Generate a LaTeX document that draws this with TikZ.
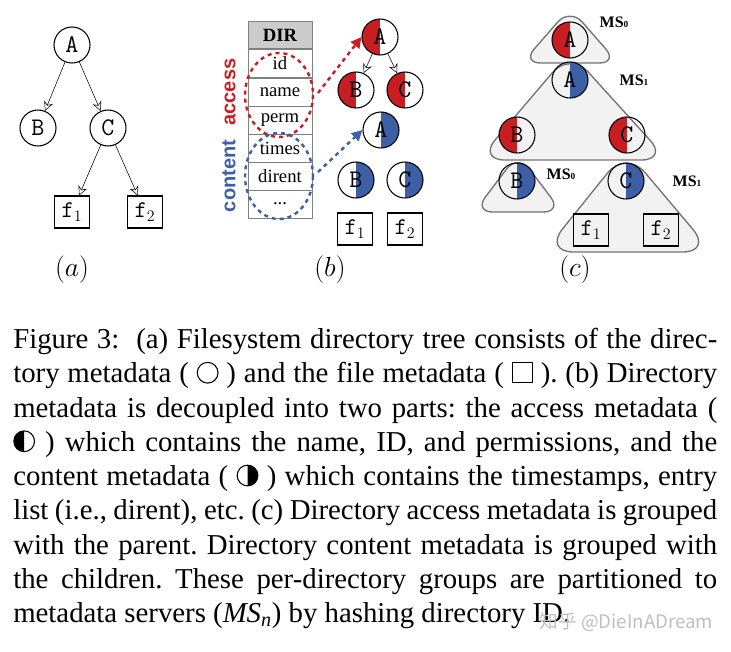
\documentclass[tikz,border=0pt]{standalone}
\usepackage{fontspec}
\setmainfont{Liberation Serif}
\newfontfamily\cjk{Noto Sans CJK SC}
\newfontfamily\wsans{Liberation Sans}
\usetikzlibrary{arrows.meta}
\definecolor{accred}{RGB}{200,30,35}
\definecolor{conblue}{RGB}{60,95,165}
\definecolor{grp}{RGB}{242,242,242}
\begin{document}
\begin{tikzpicture}[x=0.75pt,y=-0.75pt,
  dn/.style={circle,draw,thick,minimum size=27pt,inner sep=0pt,font=\ttfamily\fontsize{19}{19}\selectfont},
  fn/.style={draw,thick,minimum width=26pt,minimum height=24pt,inner sep=0pt,font=\ttfamily\fontsize{18}{18}\selectfont},
  acc/.style={dn,path picture={\fill[accred] (path picture bounding box.north) rectangle (path picture bounding box.south west);}},
  con/.style={dn,path picture={\fill[conblue] (path picture bounding box.north) rectangle (path picture bounding box.south east);}},
  edge/.style={-{Stealth[open,length=7pt,width=7pt]},thin},
  cell/.style={draw=gray,minimum width=48pt,minimum height=21pt,inner sep=0pt,font=\fontsize{14}{14}\selectfont},
  grpst/.style={draw=gray!90!black,fill=grp,line width=1pt,rounded corners=14pt},
  ms/.style={font=\bfseries\fontsize{12}{12}\selectfont},
  lab/.style={font=\fontsize{20}{20}\selectfont}]
\useasboundingbox (0,0) rectangle (731,652);
% (a)
\node[dn] (aA) at (72,45) {A};
\node[dn] (aB) at (38,128) {B};
\node[dn] (aC) at (108,128) {C};
\node[fn] (af1) at (72,212) {f$_1$};
\node[fn] (af2) at (145,212) {f$_2$};
\draw[edge] (aA) -- (aB);
\draw[edge] (aA) -- (aC);
\draw[edge] (aC) -- (af1);
\draw[edge] (aC) -- (af2);
\node[lab] (la) at (72,270) {$(a)$};
% (b) table
\node[cell,fill=gray!40,minimum height=20pt,font=\bfseries\fontsize{14}{14}\selectfont] (dir) at (280,35) {DIR};
\node[cell] (cid) at (280,63) {id};
\node[cell] (cname) at (280,92) {name};
\node[cell] (cperm) at (280,120) {perm};
\node[cell] (ctimes) at (280,148) {times};
\node[cell] (cdirent) at (280,176) {dirent};
\node[cell] (cdots) at (280,204) {...};
\draw[accred,dashed,line width=1.8pt] (279,95) ellipse (34 and 42);
\draw[conblue,dashed,line width=1.8pt] (279,176) ellipse (34 and 43);
\node[rotate=90,text=accred,font=\wsans\bfseries\fontsize{15}{15}\selectfont] (lacc) at (230,92) {access};
\node[rotate=90,text=conblue,font=\wsans\bfseries\fontsize{15}{15}\selectfont] (lcon) at (229,176) {content};
\node[acc] (bA) at (380,37) {A};
\node[acc] (bB) at (356,90) {B};
\node[acc] (bC) at (405,90) {C};
\node[con] (bA2) at (381,130) {A};
\node[con] (bB2) at (356,180) {B};
\node[con] (bC2) at (405,180) {C};
\node[fn] (bf1) at (355,229) {f$_1$};
\node[fn] (bf2) at (405,229) {f$_2$};
\draw[edge] (bA) -- (bB);
\draw[edge] (bA) -- (bC);
\coordinate (sa) at (318,93);
\coordinate (sc) at (318,172);
\draw[accred,dashed,line width=1.8pt,-{Triangle[length=8pt,width=8pt]}] (sa) -- (bA.west);
\draw[conblue,dashed,line width=1.8pt,-{Triangle[length=8pt,width=8pt]}] (sc) -- (bA2.west);
\node[lab] (lb) at (330,270) {$(b)$};
% (c)
\draw[grpst] (570,8) -- (618,63) -- (522,63) -- cycle;
\draw[grpst,rounded corners=20pt] (570,52) -- (668,160) -- (478,160) -- cycle;
\draw[grpst] (518,154) -- (562,212) -- (474,212) -- cycle;
\draw[grpst,rounded corners=22pt] (626,150) -- (712,252) -- (544,252) -- cycle;
\node[acc] (cA) at (570,40) {A};
\node[con] (cA2) at (570,80) {A};
\node[acc] (cB) at (517,135) {B};
\node[acc] (cC) at (627,135) {C};
\node[con] (cB2) at (517,181) {B};
\node[con] (cC2) at (626,181) {C};
\node[fn] (cf1) at (591,230) {f$_1$};
\node[fn] (cf2) at (661,230) {f$_2$};
\node[ms] (m0a) at (614,22) {MS{\scriptsize 0}};
\node[ms] (m1a) at (634,80) {MS{\scriptsize 1}};
\node[ms] (m0b) at (561,174) {MS{\scriptsize 0}};
\node[ms] (m1b) at (687,181) {MS{\scriptsize 1}};
\node[lab] (lc) at (575,270) {$(c)$};
% caption
\newcommand{\ocirc}{\tikz[baseline=-0.35em]\draw[line width=0.8pt] (0,0) circle (0.36em);}
\newcommand{\osq}{\tikz[baseline=0pt]\draw[line width=0.8pt] (0,0) rectangle (0.7em,0.7em);}
\newcommand{\lhalf}{\tikz[baseline=-0.35em]{\fill (0,0.36em) arc (90:270:0.36em) -- cycle;\draw[line width=0.8pt] (0,0) circle (0.36em);}}
\newcommand{\rhalf}{\tikz[baseline=-0.35em]{\fill (0,0.36em) arc (90:-90:0.36em) -- cycle;\draw[line width=0.8pt] (0,0) circle (0.36em);}}
\node[anchor=north west,inner sep=0pt,text width=528pt,align=justify,font=\fontsize{21.6}{25.7}\selectfont] (cap) at (13,328)
{\frenchspacing Figure 3:\ \ (a) Filesystem directory tree consists of the direc-\linebreak
tory metadata ( \ocirc\ ) and the file metadata ( \osq\ ). (b) Directory\linebreak
metadata is decoupled into two parts: the access metadata (\linebreak
\lhalf\ ) which contains the name, ID, and permissions, and the\linebreak
content metadata ( \rhalf\ ) which contains the timestamps, entry\linebreak
list (i.e., dirent), etc. (c) Directory access metadata is grouped\linebreak
with the parent. Directory content metadata is grouped with\linebreak
the children. These per-directory groups are partitioned to\linebreak
metadata servers (\textit{MS}\textsubscript{\textit{n}}) by hashing directory ID.\par};
\node[anchor=west,text=gray!50,font=\cjk\fontsize{14}{14}\selectfont] (wm) at (535,622) {知乎 @DieInADream};
\end{tikzpicture}
\end{document}
